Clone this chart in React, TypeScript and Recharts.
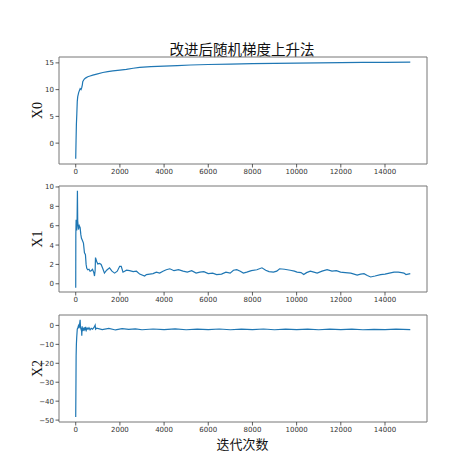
import React from "react";
import { LineChart, Line, XAxis, YAxis, ReferenceArea, Label } from "recharts";

// iteration index of each sampled point, and the weight at that point
const x0Iter = [0, 15, 30, 50, 70, 91, 136, 200, 240, 273, 300, 318, 360, 395, 460, 545, 650, 773, 950, 1227, 1450, 1682, 2000, 2290, 2600, 2895, 3400, 4000, 4600, 5200, 6000, 7000, 8000, 9000, 10000, 11000, 12000, 13000, 14000, 15145];
const x0Vals = [-2.9, 0.5, 3.5, 5.5, 7.8, 8.7, 9.5, 10.2, 10.0, 10.4, 10.9, 11.5, 11.8, 12.0, 12.2, 12.4, 12.55, 12.7, 12.9, 13.2, 13.35, 13.5, 13.65, 13.8, 14.0, 14.15, 14.3, 14.4, 14.5, 14.6, 14.7, 14.78, 14.85, 14.9, 14.95, 15.0, 15.05, 15.08, 15.1, 15.15];

const x1Iter = [0, 5, 18, 30, 45, 60, 77, 90, 125, 160, 200, 230, 260, 300, 350, 395, 420, 440, 470, 500, 545, 600, 650, 700, 760, 820, 850, 880, 895, 950, 1000, 1080, 1150, 1220, 1300, 1400, 1530, 1640, 1760, 1880, 1990, 2060, 2140, 2300, 2440, 2600, 2750, 2895, 3120, 3200, 3350, 3500, 3650, 3800, 3950, 4100, 4260, 4450, 4650, 4860, 5050, 5250, 5450, 5620, 5800, 6000, 6200, 6380, 6600, 6800, 6990, 7140, 7290, 7450, 7590, 7745, 7950, 8200, 8430, 8600, 8750, 8950, 9100, 9230, 9450, 9710, 9900, 10020, 10200, 10320, 10450, 10620, 10780, 10930, 11150, 11380, 11600, 11800, 11990, 12200, 12450, 12600, 12740, 12900, 13050, 13200, 13350, 13550, 13800, 14000, 14200, 14410, 14600, 14750, 14860, 14950, 15145];
const x1Vals = [-0.4, 5.0, 6.6, 6.1, 5.5, 6.3, 9.6, 6.5, 5.6, 6.0, 5.8, 5.1, 4.7, 4.5, 4.2, 3.2, 3.1, 3.0, 2.0, 1.6, 1.45, 1.5, 1.3, 1.35, 1.5, 1.15, 0.8, 1.4, 2.7, 2.3, 2.05, 2.1, 2.0, 1.6, 1.1, 1.4, 1.65, 1.3, 1.1, 1.3, 1.8, 1.8, 1.2, 1.4, 1.35, 1.25, 1.3, 1.0, 0.8, 0.95, 1.0, 1.05, 1.2, 1.1, 1.3, 1.45, 1.55, 1.35, 1.45, 1.3, 1.2, 1.35, 1.1, 1.2, 1.25, 1.05, 1.1, 0.95, 1.0, 1.2, 1.1, 1.4, 1.45, 1.3, 1.1, 1.2, 1.35, 1.45, 1.65, 1.4, 1.25, 1.2, 1.3, 1.55, 1.5, 1.4, 1.3, 1.2, 1.15, 0.95, 1.15, 1.3, 1.2, 1.1, 1.3, 1.45, 1.3, 1.35, 1.2, 1.15, 1.1, 1.0, 0.9, 1.0, 1.05, 0.85, 0.7, 0.8, 0.95, 1.0, 1.1, 1.2, 1.2, 1.15, 1.1, 0.95, 1.05];

const x2Iter = [0, 8, 12, 18, 30, 45, 70, 100, 123, 150, 200, 215, 240, 260, 275, 290, 310, 330, 360, 390, 420, 450, 480, 520, 560, 600, 650, 700, 760, 820, 880, 900, 950, 1200, 1500, 1800, 2100, 2400, 2700, 3000, 3500, 4000, 4500, 5000, 5500, 6000, 6500, 7000, 7500, 8000, 8500, 9000, 9500, 10000, 10500, 11000, 11500, 12000, 12500, 13000, 13500, 14000, 14500, 15145];
const x2Vals = [-48.4, -35, -28.2, -16, -10, -6.3, -2, -1.05, -0.2, -1.5, 3.0, -1.0, -2.0, -1.2, -5.5, -0.5, -3.0, -1.3, -2.8, -1.0, -2.2, -0.8, -2.5, -1.4, -2.0, -1.2, -2.3, -1.5, -2.0, -1.2, 0.2, -2.0, -1.4, -2.2, -1.6, -2.4, -1.7, -2.1, -1.8, -2.3, -1.9, -2.2, -1.8, -2.3, -2.0, -2.2, -1.9, -2.3, -2.0, -2.2, -1.9, -2.3, -2.0, -2.2, -2.0, -2.3, -2.0, -2.2, -2.0, -2.3, -2.1, -2.2, -2.0, -2.2];

const xTicks = [0, 2000, 4000, 6000, 8000, 10000, 12000, 14000];
const xDomain = [-757, 15902];

const toRows = (iters: number[], vals: number[]) => iters.map((x, i) => ({ x, v: vals[i] }));

const tickStyle = { fontFamily: "DejaVu Sans", fontSize: 7, fill: "#333" };
const fmt = (n: number) => String(n).replace("-", "\u2212");

type PanelProps = {
  rows: { x: number; v: number }[];
  top: number;
  bottom: number;
  yDomain: number[];
  yTicks: number[];
  name: string;
};

const Panel = ({ rows, top, bottom, yDomain, yTicks, name }: PanelProps) => (
  <div style={{ position: "absolute", left: 0, top: 0 }}>
    <LineChart width={474} height={474} data={rows} margin={{ top, right: 47, bottom: 454 - bottom, left: 0 }}>
      <XAxis
        dataKey="x"
        type="number"
        domain={xDomain}
        ticks={xTicks}
        allowDataOverflow
        height={20}
        axisLine={false}
        tickSize={3.5}
        tickMargin={2}
        tickLine={{ stroke: "#333", strokeWidth: 0.8 }}
        tick={tickStyle}
      />
      <YAxis
        type="number"
        domain={yDomain}
        ticks={yTicks}
        allowDataOverflow
        width={59}
        axisLine={false}
        tickSize={3.5}
        tickMargin={1.5}
        tickLine={{ stroke: "#333", strokeWidth: 0.8 }}
        tick={tickStyle}
        tickFormatter={fmt}
      >
        <Label
          content={(p: any) => {
            const cy = p.viewBox.y + p.viewBox.height / 2;
            return (
              <text
                x={37.5}
                y={cy}
                transform={`rotate(-90, 37.5, ${cy})`}
                textAnchor="middle"
                dominantBaseline="central"
                style={{ fontFamily: "Liberation Serif", fontSize: 14, fill: "#111" }}
              >
                {name}
              </text>
            );
          }}
        />
      </YAxis>
      <Line type="linear" dataKey="v" stroke="#1f77b4" strokeWidth={1.2} dot={false} isAnimationActive={false} />
      <ReferenceArea
        x1={xDomain[0]}
        x2={xDomain[1]}
        y1={yDomain[0]}
        y2={yDomain[1]}
        fill="none"
        stroke="#777"
        strokeWidth={1}
        ifOverflow="visible"
      />
    </LineChart>
  </div>
);

export default function App() {
  return (
    <div style={{ position: "absolute", left: 0, top: 0, width: 474, height: 474, background: "#fff" }}>
      <div
        style={{
          position: "absolute",
          left: 242,
          top: 40.5,
          transform: "translateX(-50%)",
          whiteSpace: "nowrap",
          fontFamily: "Noto Sans CJK SC",
          fontSize: 14.5,
          lineHeight: "15px",
          color: "#111",
        }}
      >
        改进后随机梯度上升法
      </div>
      <Panel rows={toRows(x0Iter, x0Vals)} top={57} bottom={164} yDomain={[-3.9, 16.1]} yTicks={[0, 5, 10, 15]} name="X0" />
      <Panel rows={toRows(x1Iter, x1Vals)} top={186} bottom={292} yDomain={[-0.85, 10.1]} yTicks={[0, 2, 4, 6, 8, 10]} name="X1" />
      <Panel
        rows={toRows(x2Iter, x2Vals)}
        top={315}
        bottom={422}
        yDomain={[-51, 5.5]}
        yTicks={[-50, -40, -30, -20, -10, 0]}
        name="X2"
      />
      <div
        style={{
          position: "absolute",
          left: 242.5,
          top: 436.5,
          transform: "translateX(-50%)",
          whiteSpace: "nowrap",
          fontFamily: "Noto Sans CJK SC",
          fontSize: 13,
          lineHeight: "13px",
          color: "#111",
        }}
      >
        迭代次数
      </div>
    </div>
  );
}
